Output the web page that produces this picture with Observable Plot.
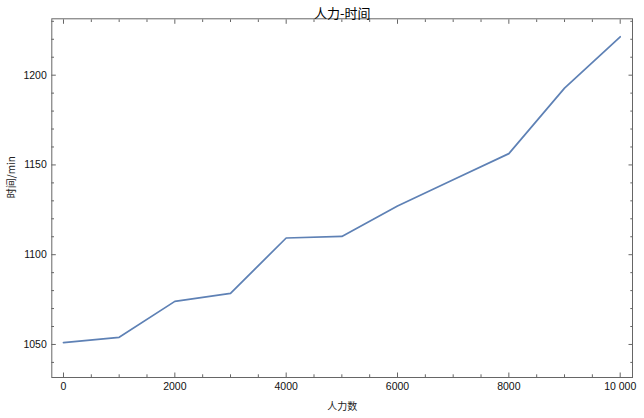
<!DOCTYPE html>
<html><head><meta charset="utf-8">
<script src="https://cdn.jsdelivr.net/npm/d3@7"></script>
<script src="https://cdn.jsdelivr.net/npm/@observablehq/plot@0.6"></script>
<style>body{margin:0;background:#fff}</style>
</head><body><div id="chart"></div>
<script>
// Data
const workers = [0, 1000, 2000, 3000, 4000, 5000, 6000, 7000, 8000, 9000, 10000];
const minutes = [1051, 1054, 1074, 1078.5, 1109.3, 1110.2, 1127.1, 1141.7, 1156.3, 1192.8, 1221.4];
const xMajor = [0, 2000, 4000, 6000, 8000, 10000];
const yMajor = [1050, 1100, 1150, 1200];
const titleText = "人力-时间";
const xLabel = "人力数";
const yLabel = "时间/min";

const xMinor = d3.range(0, 10001, 500).filter(v => !xMajor.includes(v));
const yMinor = d3.range(1040, 1231, 10).filter(v => !yMajor.includes(v));
const data = workers.map((w, i) => ({w, t: minutes[i]}));
const fmt = d => d >= 10000 ? d3.format(",")(d).replace(",", " ") : String(d);

const frameColor = "#666";
const labelColor = "#111";
const tickOpts = {stroke: frameColor, tickFormat: () => "", label: null};

const chart = Plot.plot({
  width: 644, height: 418,
  marginLeft: 51.3, marginRight: 12, marginTop: 18.3, marginBottom: 41,
  style: {fontFamily: "'Liberation Sans', Arial, sans-serif", background: "#fff"},
  x: {domain: [-210, 10221]},
  y: {domain: [1031.6, 1231.4]},
  marks: [
    // inward major/minor ticks on all four sides
    Plot.axisX(xMajor, {anchor: "bottom", tickSize: -4.5, ...tickOpts}),
    Plot.axisX(xMinor, {anchor: "bottom", tickSize: -2.7, ...tickOpts}),
    Plot.axisX(xMajor, {anchor: "top", tickSize: -4.5, ...tickOpts}),
    Plot.axisX(xMinor, {anchor: "top", tickSize: -2.7, ...tickOpts}),
    Plot.axisY(yMajor, {anchor: "left", tickSize: -4.5, ...tickOpts}),
    Plot.axisY(yMinor, {anchor: "left", tickSize: -2.7, ...tickOpts}),
    Plot.axisY(yMajor, {anchor: "right", tickSize: -4.5, ...tickOpts}),
    Plot.axisY(yMinor, {anchor: "right", tickSize: -2.7, ...tickOpts}),
    // tick labels
    Plot.axisX(xMajor, {anchor: "bottom", tickSize: 0, tickPadding: 5, tickFormat: fmt, label: null, fontSize: 10.5, fill: labelColor}),
    Plot.axisY(yMajor, {anchor: "left", tickSize: 0, tickPadding: 5, tickFormat: fmt, label: null, fontSize: 10.5, fill: labelColor}),
    Plot.frame({stroke: frameColor}),
    Plot.line(data, {x: "w", y: "t", stroke: "#5E81B5", strokeWidth: 1.7}),
    // title and axis labels
    Plot.text([titleText], {text: d => d, frameAnchor: "top", lineAnchor: "bottom", dy: -1, fontSize: 13, fill: "#000", fontFamily: "'Noto Sans CJK SC', sans-serif"}),
    Plot.text([xLabel], {text: d => d, frameAnchor: "bottom", lineAnchor: "middle", dy: 29, fontSize: 10, fill: "#222", fontFamily: "'Noto Sans CJK SC', sans-serif"}),
    Plot.text([yLabel], {text: d => d, frameAnchor: "left", lineAnchor: "middle", rotate: -90, dx: -40, fontSize: 10, fill: "#222", fontFamily: "'Noto Sans CJK SC', sans-serif"})
  ]
});
document.getElementById("chart").append(chart);
</script>
</body></html>
